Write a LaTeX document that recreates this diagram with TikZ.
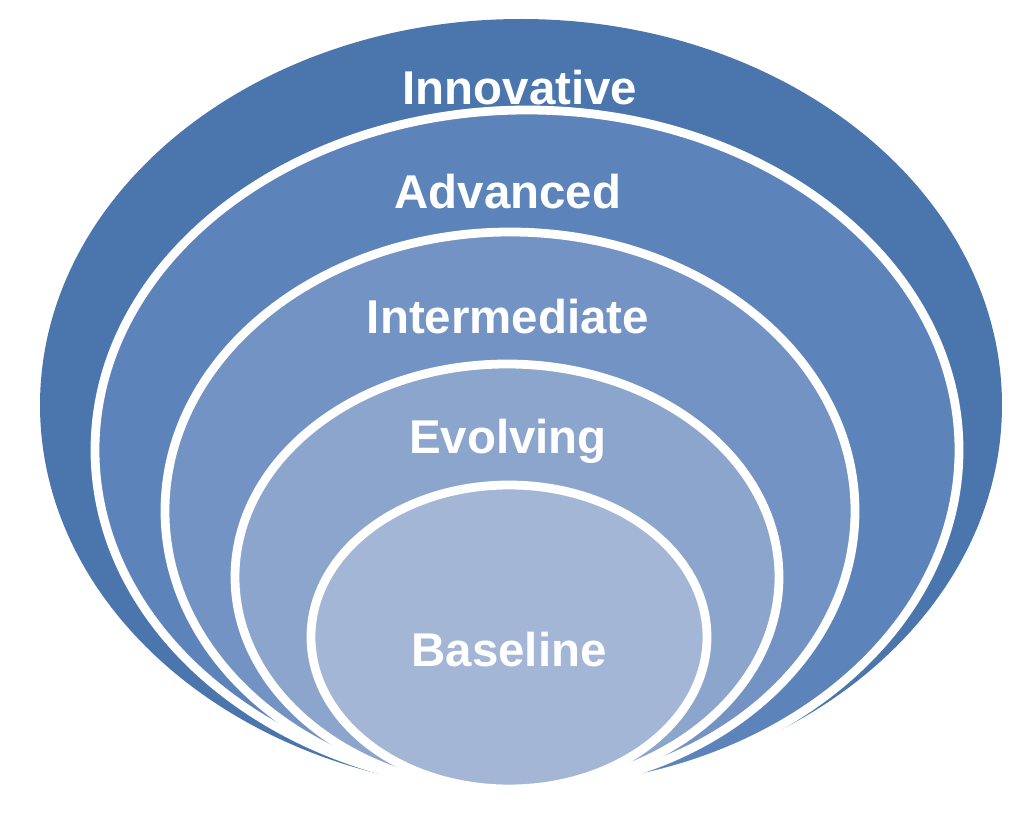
\documentclass[tikz,border=0pt]{standalone}
\usepackage{fontspec}
\setmainfont{Liberation Sans}
\definecolor{c1}{HTML}{4A76AD}
\definecolor{c2}{HTML}{5C84BB}
\definecolor{c3}{HTML}{7293C3}
\definecolor{c4}{HTML}{8BA5CD}
\definecolor{c5}{HTML}{A3B6D6}
\tikzset{ring/.style={draw=white,line width=5pt},
lbl/.style={text=white,font=\bfseries\fontsize{27}{32}\selectfont}}
\begin{document}
\begin{tikzpicture}[x=0.02cm,y=-0.02cm]
\useasboundingbox (0,0) rectangle (1036,828);
\fill[c1] (521,405) ellipse [x radius=481,y radius=386];
\filldraw[ring,fill=c2] (527,450) ellipse [x radius=432,y radius=340];
\filldraw[ring,fill=c3] (510,511) ellipse [x radius=345,y radius=279];
\filldraw[ring,fill=c4] (507,577) ellipse [x radius=272,y radius=213];
\filldraw[ring,fill=c5] (509,637) ellipse [x radius=198,y radius=152];
\node[lbl] (n1) at (520,88) {Innovative};
\node[lbl] (n2) at (508,192) {Advanced};
\node[lbl] (n3) at (508,317) {Intermediate};
\node[lbl] (n4) at (508,441) {Evolving};
\node[lbl] (n5) at (509,650) {Baseline};
\end{tikzpicture}
\end{document}
